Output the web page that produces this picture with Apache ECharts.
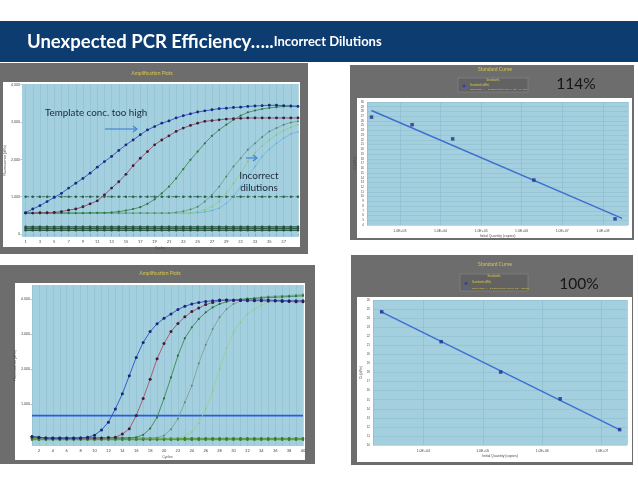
<!DOCTYPE html>
<html><head><meta charset="utf-8">
<script src="https://cdn.jsdelivr.net/npm/echarts@6/dist/echarts.min.js"></script>
<style>html,body{margin:0;padding:0;background:#fff}#c{width:638px;height:478px}</style>
</head><body><div id="c"></div><script>
// ---- text ----
const slideTitle = 'Unexpected PCR Efficiency…..';
const slideSubtitle = 'Incorrect Dilutions';
const ampTitle = 'Amplification Plots';
const stdTitle = 'Standard Curve';
const effTop = '114%';
const effBottom = '100%';
const noteHigh = 'Template conc. too high';
const noteDil1 = 'Incorrect';
const noteDil2 = 'dilutions';

// ---- top-left amplification plot (cycles 1..39) ----
const tlCycles = [1,2,3,4,5,6,7,8,9,10,11,12,13,14,15,16,17,18,19,20,21,22,23,24,25,26,27,28,29,30,31,32,33,34,35,36,37,38,39];
const tlXTicks = [1,3,5,7,9,11,13,15,17,19,21,23,25,27,29,31,33,35,37];
const tlYTicks = [0,1000,2000,3000,4000];
const tlBlue  = [570,670,760,870,980,1090,1230,1360,1490,1630,1790,1940,2080,2240,2390,2520,2660,2790,2880,2970,3030,3110,3170,3220,3270,3300,3330,3360,3370,3390,3400,3420,3430,3440,3450,3450,3440,3430,3420];
const tlRed   = [560,560,570,570,580,600,640,670,730,810,890,1050,1230,1400,1600,1830,2030,2210,2390,2520,2630,2750,2840,2910,2970,3020,3040,3060,3080,3090,3100,3110,3110,3110,3110,3110,3110,3110,3110];
const tlGreen = [560,560,560,560,560,560,560,560,560,565,570,570,580,600,630,670,720,810,930,1090,1270,1490,1740,1990,2210,2430,2630,2790,2930,3060,3170,3260,3310,3350,3380,3400,3420,3420,3430];
const tlGray  = [560,560,560,560,560,560,560,560,560,560,560,560,560,560,560,560,560,560,560,560,560,580,610,660,730,870,1050,1270,1540,1810,2030,2260,2430,2600,2750,2840,2930,2990,3020];
const tlLight = [560,560,560,560,560,560,560,560,560,560,560,560,560,560,560,560,560,560,560,560,560,560,560,570,600,650,730,870,1090,1360,1630,1940,2170,2360,2520,2660,2770,2860,2930];
const tlCyan  = [560,560,560,560,560,560,560,560,560,560,560,560,560,560,560,560,560,560,560,560,560,560,560,560,570,590,630,690,820,1000,1270,1540,1810,2080,2270,2430,2570,2680,2740];
const tlThreshold = 1000;
const tlNtcLevels = [100,150,190];

// ---- bottom-left amplification plot (cycles 1..40) ----
const blCycles = [1,2,3,4,5,6,7,8,9,10,11,12,13,14,15,16,17,18,19,20,21,22,23,24,25,26,27,28,29,30,31,32,33,34,35,36,37,38,39,40];
const blXTicks = [2,4,6,8,10,12,14,16,18,20,22,24,26,28,30,32,34,36,38,40];
const blYTicks = [1000,2000,3000,4000];
const blBlue  = [60,50,30,20,20,20,20,30,50,110,260,480,860,1290,1810,2330,2760,3070,3290,3450,3570,3700,3790,3860,3900,3930,3950,3970,3970,3970,3970,3970,3970,3970,3970,3960,3960,3950,3950,3950];
const blRed   = [70,40,30,30,30,30,30,30,30,30,30,40,50,140,290,670,1160,1710,2290,2730,3070,3300,3490,3640,3740,3840,3900,3950,3970,3960,3960,3950,3950,3950,3940,3940,3930,3930,3920,3920];
const blGreen = [70,40,30,30,30,30,30,30,30,30,30,30,30,30,30,50,120,300,620,1160,1760,2380,2880,3190,3430,3620,3760,3860,3920,3970,3990,4010,4020,4030,4040,4050,4060,4070,4080,4090];
const blGray  = [70,40,30,30,30,30,30,30,30,30,30,30,30,30,30,30,30,30,40,100,280,580,1050,1520,2160,2690,3140,3480,3710,3860,3940,3990,4020,4050,4070,4080,4090,4100,4110,4120];
const blLight = [70,40,30,30,30,30,30,30,30,30,30,30,30,30,30,30,30,30,30,30,30,30,80,200,450,860,1380,2000,2590,3050,3330,3570,3710,3820,3900,3970,4030,4080,4120,4150];
const blThreshold = 670;
const blNtcLevels = [-20,0,20];

// ---- standard curves ----
const trQty = [2e2, 2e3, 2e4, 2e6, 2e8];
const trCt  = [26.8, 25.2, 22.2, 13.5, 5.3];
const trFitQty = [200, 3e8];
const trFitCt  = [28.2, 5.4];
const brQty = [2e3, 2e4, 2e5, 2e6, 2e7];
const brCt  = [24.7, 21.4, 18.05, 15.1, 11.7];
const brFitQty = [1900, 2.1e7];
const brFitCt  = [24.75, 11.62];
const legendTop = ['Standards', 'Standards (dRn)', 'RSq: 0.981  Y=-3.030*LOG(X)+35.11  Eff.=114.0%'];
const legendBottom = ['Standards', 'Standards (dRn)', 'RSq: 0.999  Y=-3.322*LOG(X)+36.27  Eff.=100.0%'];

const pair = (xs, ys) => xs.map((x, i) => [x, ys[i]]);
const flat = (xs, v) => xs.map(x => [x, v]);

const PLOT_BG = '#a3cfdf';
const GRID_LINE = '#8dbdd0';
const LBL = '#4a4a4a';
const YEL = '#d9c64c';
const FONT = 'Lato, "Open Sans", sans-serif';

function ampX(grid, min, max, ticks, label, name) {
  return {type:'value', gridIndex:grid, min:min, max:max,
    axisLine:{show:false},
    axisTick:{show:true, customValues:ticks, length:1.5, lineStyle:{color:'#777', width:0.5}},
    axisLabel:{customValues:label, fontSize:4, color:LBL, margin:3, fontFamily:FONT},
    splitLine:{show:true, lineStyle:{color:GRID_LINE, width:0.6}},
    name:name, nameLocation:'middle', nameGap:9, nameTextStyle:{fontSize:3.5, color:LBL}};
}
function ampY(grid, min, max, ticks, name) {
  return {type:'value', gridIndex:grid, min:min, max:max,
    axisLine:{show:false},
    axisTick:{show:true, customValues:ticks, length:1.5, lineStyle:{color:'#777', width:0.5}},
    axisLabel:{customValues:ticks, fontSize:3.5, color:LBL, margin:2, fontFamily:FONT},
    splitLine:{show:false},
    name:name, nameLocation:'middle', nameRotate:90, nameGap:10, nameTextStyle:{fontSize:3.5, color:LBL}};
}
function stdX(grid, min, max) {
  return {type:'log', logBase:10, gridIndex:grid, min:min, max:max,
    axisLine:{show:false}, axisTick:{show:false},
    axisLabel:{fontSize:3.5, color:LBL, margin:4, showMinLabel:false, showMaxLabel:false,
      formatter: v => Number(v).toExponential(1).toUpperCase().replace('E+', 'E+0')},
    splitLine:{show:true, lineStyle:{color:GRID_LINE, width:0.7}},
    name:'Initial Quantity (copies)', nameLocation:'middle', nameGap:9, nameTextStyle:{fontSize:3.5, color:LBL}};
}
function stdY(grid, min, max) {
  return {type:'value', gridIndex:grid, min:min, max:max, interval:1,
    axisLine:{show:false}, axisTick:{show:false},
    axisLabel:{fontSize:3, color:LBL, margin:3},
    splitLine:{show:true, lineStyle:{color:GRID_LINE, width:0.6}},
    name:'Ct (dRn)', nameLocation:'middle', nameRotate:90, nameGap:10, nameTextStyle:{fontSize:3.5, color:LBL}};
}
function curve(xi, data, line, dot, sym, size, width) {
  return {type:'line', xAxisIndex:xi, yAxisIndex:xi, data:data, symbol:sym, symbolSize:size,
    showSymbol:true, clip:true, lineStyle:{color:line, width:width||1},
    itemStyle:{color:dot, borderWidth:0}, z:3};
}

const series = [];
// top-left
tlNtcLevels.forEach(v => series.push(curve(0, flat(tlCycles, v), '#2d5e4a', '#264f3d', 'circle', 2.6, 1.4)));
series.push(Object.assign(curve(0, flat(tlCycles, tlThreshold), '#2f6b56', '#2a5e4b', 'circle', 2.4, 0.9), {lineStyle:{color:'#2f6b56', width:0.9, type:'dashed'}}));
series.push(curve(0, pair(tlCycles, tlCyan),  '#68b8dc', '#5aa8cc', 'circle', 1.5, 0.8));
series.push(curve(0, pair(tlCycles, tlLight), '#8fd080', '#7cbc6e', 'circle', 1.5, 0.8));
series.push(curve(0, pair(tlCycles, tlGray),  '#6f9f8c', '#557f6f', 'diamond', 2.4, 0.8));
series.push(curve(0, pair(tlCycles, tlGreen), '#3f8e5c', '#2f6e46', 'circle', 2.2, 0.9));
series.push(curve(0, pair(tlCycles, tlRed),   '#9a4a62', '#33203c', 'circle', 2.8, 0.9));
series.push(curve(0, pair(tlCycles, tlBlue),  '#2a56c6', '#1b2778', 'circle', 2.8, 0.9));
// bottom-left
blNtcLevels.forEach(v => series.push(curve(1, flat(blCycles, v), '#58a03e', '#3f7a30', 'circle', 2.4, 1)));
series.push({type:'line', xAxisIndex:1, yAxisIndex:1, data:flat(blCycles, blThreshold), symbol:'none', lineStyle:{color:'#2a5be0', width:1.8}, z:3});
series.push(curve(1, pair(blCycles, blLight), '#9ad08a', '#86bf78', 'circle', 1.5, 0.8));
series.push(curve(1, pair(blCycles, blGray),  '#7aa08e', '#5f8473', 'diamond', 2.4, 0.8));
series.push(curve(1, pair(blCycles, blGreen), '#3a8a55', '#2d6b42', 'circle', 2.2, 0.9));
series.push(curve(1, pair(blCycles, blRed),   '#a8506a', '#3b1f3a', 'circle', 3, 0.9));
series.push(curve(1, pair(blCycles, blBlue),  '#2850c8', '#1a2570', 'circle', 3, 0.9));
// standard curves
series.push({type:'line', xAxisIndex:2, yAxisIndex:2, data:pair(trFitQty, trFitCt), symbol:'none', lineStyle:{color:'#3d6fd0', width:1.4}, z:3});
series.push({type:'scatter', xAxisIndex:2, yAxisIndex:2, data:pair(trQty, trCt), symbol:'rect', symbolSize:3.5, itemStyle:{color:'#1d2f8f'}, z:4});
series.push({type:'line', xAxisIndex:3, yAxisIndex:3, data:pair(brFitQty, brFitCt), symbol:'none', lineStyle:{color:'#3d6fd0', width:1.4}, z:3});
series.push({type:'scatter', xAxisIndex:3, yAxisIndex:3, data:pair(brQty, brCt), symbol:'rect', symbolSize:3.5, itemStyle:{color:'#1d2f8f'}, z:4});

function rect(x, y, w, h, fill, z, stroke) {
  return {type:'rect', shape:{x:x, y:y, width:w, height:h}, style:{fill:fill, stroke:stroke||null, lineWidth:stroke?0.6:0}, z:z, silent:true};
}
function txt(x, y, s, size, fill, align, extra) {
  return {type:'text', x:x, y:y, z:100, silent:true,
    style:Object.assign({text:s, fontSize:size, fill:fill, align:align||'left', verticalAlign:'middle', fontFamily:FONT}, extra||{})};
}
function legendBox(x, y, w, h, lines) {
  return [
    rect(x, y, w, h, '#626262', -1, '#8a8a8a'),
    txt(x + w/2, y + 2.5, lines[0], 3, YEL, 'center'),
    {type:'circle', shape:{cx:x+6, cy:y+h/2+1, r:1.4}, style:{fill:'#3a3aa8'}, z:100, silent:true},
    {type:'line', shape:{x1:x+3, y1:y+h-3, x2:x+9, y2:y+h-3}, style:{stroke:'#4a6fd0', lineWidth:0.6}, z:100, silent:true},
    txt(x + 12, y + h/2, lines[1], 2.8, YEL, 'left'),
    txt(x + 12, y + h - 3, lines[2], 2.6, YEL, 'left')
  ];
}
function arrow(x1, y, x2, color) {
  return [
    {type:'line', shape:{x1:x1, y1:y, x2:x2, y2:y}, style:{stroke:color, lineWidth:1.1}, z:100, silent:true},
    {type:'polyline', shape:{points:[[x2-4, y-3], [x2, y], [x2-4, y+3]]}, style:{stroke:color, lineWidth:1.1, fill:null}, z:100, silent:true}
  ];
}

const graphic = [
  rect(0, 21, 638, 41, '#0d3d70', -1),
  {type:'text', x:27, y:42, z:100, silent:true, style:{
    text:'{a|' + slideTitle + '}{b|' + slideSubtitle + '}', verticalAlign:'middle',
    rich:{a:{fontSize:18.5, fontWeight:'bold', fill:'#ffffff', fontFamily:FONT, lineHeight:24},
          b:{fontSize:13, fontWeight:'bold', fill:'#ffffff', fontFamily:FONT, lineHeight:24}}}},
  // panels
  rect(0, 63, 308, 191, '#6d6d6d', -2), rect(3, 82, 297, 165, '#ffffff', -1),
  rect(0, 265, 315, 199, '#6d6d6d', -2), rect(15, 283, 290, 177, '#ffffff', -1),
  rect(350, 65, 284, 175, '#6d6d6d', -2), rect(357, 98, 275, 140, '#ffffff', -1),
  rect(351, 255, 282, 210, '#6d6d6d', -2), rect(357, 297, 275, 165, '#ffffff', -1),
  txt(152, 73, ampTitle, 5, YEL, 'center'),
  txt(160, 273, ampTitle, 5, YEL, 'center'),
  txt(495, 69, stdTitle, 5, YEL, 'center'),
  txt(495, 264, stdTitle, 5, YEL, 'center'),
  ...legendBox(458, 78, 70, 14, legendTop),
  ...legendBox(460, 274, 68, 17, legendBottom),
  txt(576, 84, effTop, 15.5, '#151515', 'center'),
  txt(579, 284, effBottom, 15.5, '#151515', 'center'),
  txt(45, 113, noteHigh, 9.8, '#1b2a3a', 'left'),
  ...arrow(105, 129, 137, '#3f7fd6'),
  txt(259, 176, noteDil1, 10, '#1b2a3a', 'center'),
  txt(259, 188, noteDil2, 10, '#1b2a3a', 'center'),
  ...arrow(246, 158, 257, '#3f7fd6')
];

const chart = echarts.init(document.getElementById('c'), null, {renderer:'canvas'});
chart.setOption({
  animation:false,
  backgroundColor:'#ffffff',
  grid:[
    {left:22, top:84, width:276, height:153, show:true, backgroundColor:PLOT_BG, borderWidth:0},
    {left:32, top:285, width:271, height:161, show:true, backgroundColor:PLOT_BG, borderWidth:0},
    {left:367, top:102, width:261, height:123, show:true, backgroundColor:PLOT_BG, borderWidth:0},
    {left:373, top:300, width:254, height:145, show:true, backgroundColor:PLOT_BG, borderWidth:0}
  ],
  xAxis:[
    ampX(0, 0.5, 39, tlCycles, tlXTicks, 'Cycles'),
    ampX(1, 1, 40, blCycles, blXTicks, 'Cycles'),
    stdX(2, 155, 4.17e8),
    stdX(3, 1429, 2.66e7)
  ],
  yAxis:[
    ampY(0, -80, 4020, tlYTicks, 'Fluorescence (dRn)'),
    ampY(1, -200, 4400, blYTicks, 'Fluorescence (dRn)'),
    stdY(2, 4, 30),
    stdY(3, 10, 26)
  ],
  series:series,
  graphic:graphic
});
</script></body></html>
